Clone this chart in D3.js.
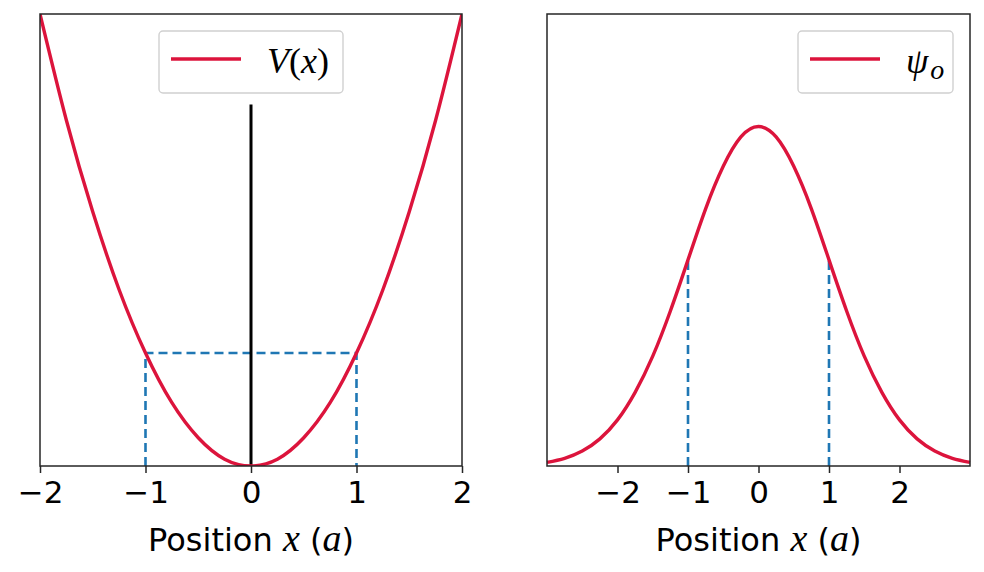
<!DOCTYPE html>
<html>
<head>
<meta charset="utf-8">
<script src="https://cdn.jsdelivr.net/npm/d3@7"></script>
<style>
  body { margin: 0; background: #fff; }
  svg text { fill: #000; }
</style>
</head>
<body>
<svg id="chart" width="984" height="572"></svg>
<script>
// values
var potX   = [-2, -1.75, -1.5, -1.25, -1, -0.75, -0.5, -0.25, 0, 0.25, 0.5, 0.75, 1, 1.25, 1.5, 1.75, 2];
var potY   = [4, 3.06, 2.25, 1.56, 1, 0.56, 0.25, 0.06, 0, 0.06, 0.25, 0.56, 1, 1.56, 2.25, 3.06, 4];
var psiX   = [-3, -2.75, -2.5, -2.25, -2, -1.75, -1.5, -1.25, -1, -0.75, -0.5, -0.25, 0, 0.25, 0.5, 0.75, 1, 1.25, 1.5, 1.75, 2, 2.25, 2.5, 2.75, 3];
var psiY   = [0.008, 0.017, 0.033, 0.060, 0.102, 0.163, 0.243, 0.343, 0.456, 0.569, 0.663, 0.728, 0.751, 0.728, 0.663, 0.569, 0.456, 0.343, 0.243, 0.163, 0.102, 0.060, 0.033, 0.017, 0.008];
var potTicks = [-2, -1, 0, 1, 2];
var psiTicks = [-2, -1, 0, 1, 2];
var potBox   = [[-1, 0], [-1, 1], [1, 1], [1, 0]];   // dashed box under V
var psiMarks = [[-1, 0.456], [1, 0.456]];           // dashed drops under psi
var centerBar = [[0, 0], [0, 3.2]];

var svg = d3.select('#chart');
var RED = '#dc143c', BLUE = '#1f77b4', FRAME = '#262626';
var yTop = 14, yBot = 466;
var MATH = 'Liberation Serif';

function panel(x0, x1, xDom, yDom, ticks) {
  var g = svg.append('g');
  var x = d3.scaleLinear().domain(xDom).range([x0, x1]);
  var y = d3.scaleLinear().domain(yDom).range([yBot, yTop]);

  var ax = d3.axisBottom(x).tickValues(ticks).tickSize(7).tickPadding(8)
    .tickFormat(function (d) { return d < 0 ? '\u2212' + Math.abs(d) : d; });
  var axg = g.append('g').attr('transform', 'translate(0,' + yBot + ')').call(ax)
    .attr('font-family', 'DejaVu Sans').attr('font-size', 31);
  axg.select('.domain').remove();
  axg.selectAll('line').attr('stroke', FRAME).attr('stroke-width', 1.5);
  axg.selectAll('text').attr('fill', '#000');

  var label = g.append('text')
    .attr('x', (x0 + x1) / 2).attr('y', 551)
    .attr('text-anchor', 'middle')
    .attr('font-family', 'DejaVu Sans').attr('font-size', 32);
  label.append('tspan').text('Position ');
  label.append('tspan').attr('font-family', MATH).attr('font-style', 'italic').attr('font-size', 38).text('x');
  label.append('tspan').text(' (');
  label.append('tspan').attr('font-family', MATH).attr('font-style', 'italic').attr('font-size', 38).text('a');
  label.append('tspan').text(')');

  return {g: g, x: x, y: y, x0: x0, x1: x1};
}

function frame(p) {
  p.g.append('rect')
    .attr('x', p.x0).attr('y', yTop)
    .attr('width', p.x1 - p.x0).attr('height', yBot - yTop)
    .attr('fill', 'none').attr('stroke', FRAME).attr('stroke-width', 1.5);
}

function legend(p, bx, bw, draw) {
  var lg = p.g.append('g');
  lg.append('rect').attr('x', bx).attr('y', 31).attr('width', bw).attr('height', 62)
    .attr('rx', 4).attr('fill', '#fff').attr('fill-opacity', 0.8)
    .attr('stroke', '#d0d0d0').attr('stroke-width', 1.4);
  lg.append('line').attr('x1', bx + 12).attr('x2', bx + 82).attr('y1', 59).attr('y2', 59)
    .attr('stroke', RED).attr('stroke-width', 3.4);
  draw(lg.append('text').attr('x', bx + 108).attr('y', 73)
    .attr('font-family', MATH).attr('font-size', 36));
}

// ---- left: potential
var L = panel(40, 462, [-2, 2], [0, 4], potTicks);
var clipL = svg.append('clipPath').attr('id', 'clipL');
clipL.append('rect').attr('x', 40).attr('y', yTop).attr('width', 422).attr('height', yBot - yTop);

var lineL = d3.line().x(function (d) { return L.x(d[0]); }).y(function (d) { return L.y(d[1]); });
L.g.append('path').datum(potBox).attr('d', lineL)
  .attr('fill', 'none').attr('stroke', BLUE).attr('stroke-width', 2.6).attr('stroke-dasharray', '9,5');
L.g.append('path').datum(centerBar).attr('d', lineL)
  .attr('fill', 'none').attr('stroke', '#000').attr('stroke-width', 3);
L.g.append('path').datum(d3.zip(potX, potY))
  .attr('clip-path', 'url(#clipL)')
  .attr('d', lineL.curve(d3.curveNatural))
  .attr('fill', 'none').attr('stroke', RED).attr('stroke-width', 3.4);
frame(L);
legend(L, 159, 184, function (t) {
  t.append('tspan').attr('font-style', 'italic').text('V');
  t.append('tspan').text('(');
  t.append('tspan').attr('font-style', 'italic').text('x');
  t.append('tspan').text(')');
});

// ---- right: ground state
var R = panel(547, 970, [-3, 3], [0, 1], psiTicks);
var lineR = d3.line().x(function (d) { return R.x(d[0]); }).y(function (d) { return R.y(d[1]); });
psiMarks.forEach(function (m) {
  R.g.append('path').datum([[m[0], 0], m]).attr('d', lineR)
    .attr('fill', 'none').attr('stroke', BLUE).attr('stroke-width', 2.6).attr('stroke-dasharray', '9,5');
});
R.g.append('path').datum(d3.zip(psiX, psiY))
  .attr('d', d3.line().x(function (d) { return R.x(d[0]); }).y(function (d) { return R.y(d[1]); }).curve(d3.curveNatural))
  .attr('fill', 'none').attr('stroke', RED).attr('stroke-width', 3.4);
frame(R);
legend(R, 798, 155, function (t) {
  t.append('tspan').attr('font-style', 'italic').text('\u03c8');
  t.append('tspan').attr('font-style', 'italic').attr('font-size', 28).attr('dx', 2).attr('dy', 6).text('o');
});
</script>
</body>
</html>
